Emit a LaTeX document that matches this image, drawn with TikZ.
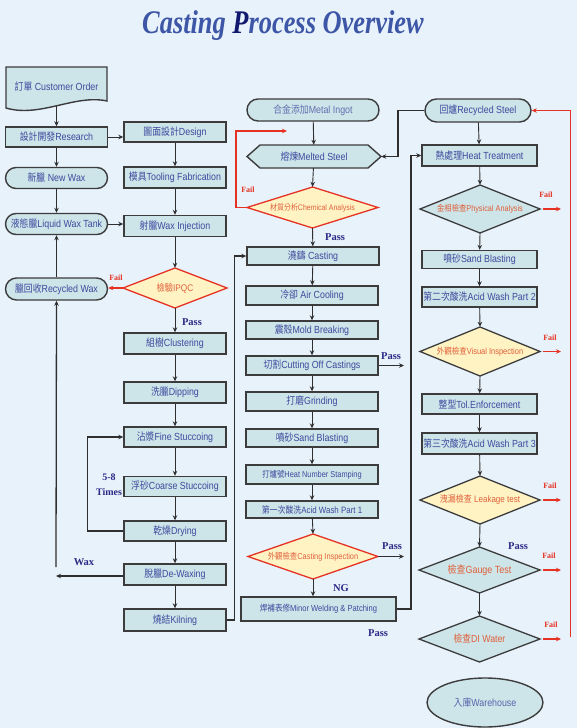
\documentclass[tikz,border=0pt]{standalone}
\usepackage{fontspec}
\setmainfont{Liberation Sans}[FakeStretch=0.86]
\newfontfamily\cjk{Noto Sans CJK TC}[FakeStretch=0.86]
\newfontfamily\lblfont{Liberation Serif}
\newfontfamily\titlefont{Liberation Serif}[FakeStretch=0.8]
\newcommand\zh[1]{{\cjk #1}}
\usetikzlibrary{arrows.meta,shapes.geometric}
\definecolor{bgc}{HTML}{E8F2FB}
\definecolor{boxf}{HTML}{CDE4E8}
\definecolor{boxd}{HTML}{3C3C3C}
\definecolor{txt}{HTML}{3B4A9E}
\definecolor{dtxt}{HTML}{E0603A}
\definecolor{yel}{HTML}{FFF3C4}
\definecolor{redc}{HTML}{E53222}
\definecolor{lc}{HTML}{2F2F2F}
\definecolor{navy}{HTML}{2B2B85}
\definecolor{tblue}{HTML}{3D56A6}
\definecolor{tdark}{HTML}{10196E}
\newcommand\fs[1]{\fontsize{#1}{#1}\selectfont}
\tikzset{
  boxs/.style={draw=boxd, line width=1.4pt, fill=boxf, text=txt, inner sep=0pt, font=\fs{10.3}},
  term/.style={boxs, rounded corners=#1},
  dtext/.style={inner sep=0pt, text=dtxt, font=\fs{8}},
  dyr/.style={fill=yel, draw=redc, line width=1.3pt},
  dyd/.style={fill=yel, draw=boxd, line width=1.3pt},
  dtd/.style={fill=boxf, draw=boxd, line width=1.3pt},
  arr/.style={draw=lc, line width=0.9pt, -{Stealth[length=5pt,width=4.5pt]}},
  larr/.style={draw=lc, line width=1.3pt, -{Stealth[length=5pt,width=4.5pt]}},
  rarr/.style={draw=redc, line width=1.1pt, -{Stealth[length=5pt,width=4.5pt]}},
  passl/.style={text=navy, font=\lblfont\bfseries\fs{10.5}, inner sep=0pt},
  faill/.style={text=redc, font=\lblfont\bfseries\fs{8}, inner sep=0pt},
}
% diamond: name, x, y, w, h, path style, text
\newcommand\dianode[7]{%
  \path[#6] ({#2-#4/2},#3) -- (#2,{#3-#5/2}) -- ({#2+#4/2},#3) -- (#2,{#3+#5/2}) -- cycle;
  \node[dtext, minimum width=#4, minimum height=#5] (#1) at (#2,#3) {#7};}
\begin{document}
\begin{tikzpicture}[x=1pt,y=-1pt]
\fill[bgc] (0,0) rectangle (577,728);
\useasboundingbox (0,0) rectangle (577,728);

% title
\node[inner sep=0pt, anchor=base, font=\titlefont\bfseries\itshape\fs{33}, text=tblue] (title) at (283,33.5)
  {Casting \textcolor{tdark}{P}rocess Overview};

% ---------- left column ----------
\path[draw=boxd, line width=1.4pt, fill=boxf] (6,67) -- (107,67) -- (107,101) .. controls (75,94) and (40,118) .. (6,108) -- cycle;
\node[inner sep=0pt, text=txt, font=\fs{10.3}, minimum width=101, minimum height=39] (co) at (56.5,86.5) {\zh{訂單} Customer Order};
\node[boxs, minimum width=102, minimum height=20] (res) at (56.5,137) {\zh{設計開發}Research};
\node[term=10.5pt, minimum width=102, minimum height=21] (nw) at (56.5,178) {\zh{新臘} New Wax};
\node[term=10.5pt, minimum width=102, minimum height=21] (lwt) at (56.5,224) {\zh{液態臘}Liquid Wax Tank};
\node[term=11pt, minimum width=102, minimum height=22] (rw) at (56.5,289) {\zh{臘回收}Recycled Wax};

% ---------- second column ----------
\node[boxs, minimum width=102, minimum height=20] (des) at (175,132) {\zh{圖面設計}Design};
\node[boxs, minimum width=102, minimum height=21] (tf) at (175,177.5) {\zh{模具}Tooling Fabrication};
\node[boxs, minimum width=102, minimum height=21] (wi) at (175,226) {\zh{射臘}Wax Injection};
\dianode{ipqc}{175}{288}{104}{40}{dyr}{\fs{9.6}\zh{檢驗}IPQC}
\node[boxs, minimum width=102, minimum height=21] (cl) at (175,343.5) {\zh{組樹}Clustering};
\node[boxs, minimum width=102, minimum height=21] (dip) at (175,392.5) {\zh{洗臘}Dipping};
\node[boxs, minimum width=102, minimum height=20] (fsb) at (175,437) {\zh{沾漿}Fine Stuccoing};
\node[boxs, minimum width=102, minimum height=20] (cs) at (175,486.5) {\zh{浮砂}Coarse Stuccoing};
\node[boxs, minimum width=102, minimum height=20] (dry) at (175,531) {\zh{乾燥}Drying};
\node[boxs, minimum width=102, minimum height=21] (dew) at (175,574.5) {\zh{脫臘}De-Waxing};
\node[boxs, minimum width=102, minimum height=22] (kil) at (175,620) {\zh{燒結}Kilning};

% ---------- third column ----------
\node[term=11pt, minimum width=132, minimum height=22, text=txt!80] (mi) at (313,110) {\zh{合金添加}Metal Ingot};
\path[draw=boxd, line width=1.4pt, fill=boxf] (247,156.5) -- (260,145) -- (368,145) -- (381,156.5) -- (368,168) -- (260,168) -- cycle;
\node[inner sep=0pt, text=txt, font=\fs{10.3}, minimum width=134, minimum height=23] (ms) at (314,156.5) {\zh{熔煉}Melted Steel};
\dianode{ca}{312.5}{207.5}{131}{41}{dyr}{\fs{8.1}\zh{材質分析}Chemical Analysis}
\node[boxs, minimum width=132, minimum height=18] (cast) at (313,256) {\zh{澆鑄} Casting};
\node[boxs, minimum width=132, minimum height=19] (ac) at (312,295.5) {\zh{冷卻} Air Cooling};
\node[boxs, minimum width=132, minimum height=18] (mb) at (312,330) {\zh{震殼}Mold Breaking};
\node[boxs, minimum width=132, minimum height=19] (cut) at (312,365.5) {\zh{切割}Cutting Off Castings};
\node[boxs, minimum width=132, minimum height=19] (gr) at (312,401.5) {\zh{打磨}Grinding};
\node[boxs, minimum width=132, minimum height=18] (sb) at (312,438) {\zh{噴砂}Sand Blasting};
\node[boxs, minimum width=132, minimum height=19, font=\fs{8.6}] (hns) at (312,474.5) {\zh{打爐號}Heat Number Stamping};
\node[boxs, minimum width=132, minimum height=17, font=\fs{9.2}] (aw1) at (312,509.5) {\zh{第一次酸洗}Acid Wash Part 1};
\dianode{ci}{313}{556.5}{130}{45}{dyr}{\fs{8.6}\zh{外觀檢查}Casting Inspection}
\node[boxs, minimum width=155, minimum height=24, font=\fs{8.8}] (mw) at (318.5,609) {\zh{焊補表修}Minor Welding \& Patching};

% ---------- right column ----------
\node[term=11.5pt, minimum width=106, minimum height=23] (rs) at (478,110.5) {\zh{回爐}Recycled Steel};
\node[boxs, minimum width=115, minimum height=21] (ht) at (479.5,155.5) {\zh{熱處理}Heat Treatment};
\dianode{pa}{480}{209}{120}{48}{dtd}{\fs{8.5}\zh{金相檢查}Physical Analysis}
\node[boxs, minimum width=115, minimum height=18] (sb2) at (479.5,259.5) {\zh{噴砂}Sand Blasting};
\node[boxs, minimum width=115, minimum height=20] (aw2) at (479.5,297) {\zh{第二次酸洗}Acid Wash Part 2};
\dianode{vi}{480}{351.5}{120}{49}{dyd}{\fs{8.7}\zh{外觀檢查}Visual Inspection}
\node[boxs, minimum width=115, minimum height=20] (tol) at (479.5,404) {\zh{整型}Tol.Enforcement};
\node[boxs, minimum width=115, minimum height=21] (aw3) at (479.5,443.5) {\zh{第三次酸洗}Acid Wash Part 3};
\dianode{lt}{480}{500}{120}{48}{dyd}{\fs{9.3}\zh{洩漏檢查} Leakage test}
\dianode{gt}{479.5}{570}{121}{46}{dtd}{\fs{10.4}\zh{檢查}Gauge Test}
\dianode{di}{479.5}{639}{121}{46}{dtd}{\fs{10.2}\zh{檢查}DI Water}
\node[ellipse, draw=boxd, line width=1.4pt, fill=boxf, text=txt!85, font=\fs{10.3}, inner sep=0pt, minimum width=116, minimum height=49] (wh) at (485,702.5) {\zh{入庫}Warehouse};

% free end points
\coordinate (wxend) at (56,576);
\coordinate (wxup) at (56,567);
\coordinate (chemend) at (287,131);
\coordinate (cutend) at (404,365.5);
\coordinate (ciend) at (404,556.5);
\coordinate (redbot) at (570,637);
\coordinate (redtop) at (570,110.5);
\coordinate (paf) at (561,209);
\coordinate (vif) at (561,351.5);
\coordinate (ltf) at (561,500);
\coordinate (gtf) at (561,570);
\coordinate (dif) at (561,639);

% ---------- connectors ----------
\draw[arr] (co.south) -- (res.north);
\draw[arr] (res) -- (nw);
\draw[arr] (nw) -- (lwt);
\draw[arr] (rw) -- (lwt);
\draw[arr] (res.east) -- (res.east -| des.west);
\draw[arr] (lwt.east) -- (lwt.east -| wi.west);
\draw[arr] (des) -- (tf);
\draw[arr] (tf) -- (wi);
\draw[arr] (wi) -- (ipqc.north);
\draw[rarr] (ipqc.west) -- (ipqc.west -| rw.east);
\draw[arr] (ipqc.south) -- (cl);
\draw[arr] (cl) -- (dip);
\draw[arr] (dip) -- (fsb);
\draw[arr] (fsb) -- (cs);
\draw[arr] (cs) -- (dry);
\draw[arr] (dry) -- (dew);
\draw[arr] (dew) -- (kil);
\draw[larr] (dry.west) -- ++(-36,0) |- (fsb.west);
\draw[larr] (dew.west |- wxend) -- (wxend);
\draw[larr] (wxup) -- (rw.south);
\draw[larr] (kil.east) -- ++(8,0) |- (cast.west);

\draw[arr] (mi) -- (ms);
\draw[arr] (ms) -- (ca.north);
\draw[rarr] (ca.west) -- (236,207.5) |- (chemend);
\draw[arr] (ca.south) -- (cast);
\draw[arr] (cast) -- (ac);
\draw[arr] (ac) -- (mb);
\draw[arr] (mb) -- (cut);
\draw[arr] (cut) -- (gr);
\draw[arr] (gr) -- (sb);
\draw[arr] (sb) -- (hns);
\draw[arr] (hns) -- (aw1);
\draw[arr] (aw1) -- (ci.north);
\draw[arr] (ci.south) -- (ci.south |- mw.north);
\draw[larr] (cut.east) -- (cutend);
\draw[larr] (ci.east) -- (ciend);
\draw[larr] (mw.east) -- (411,609) |- (ht.west);
\draw[larr] (rs.west) -- (398,110.5) |- (ms.east);

\draw[arr] (rs) -- (ht);
\draw[arr] (ht) -- (pa.north);
\draw[arr] (pa.south) -- (sb2);
\draw[arr] (sb2) -- (aw2);
\draw[arr] (aw2) -- (vi.north);
\draw[arr] (vi.south) -- (tol);
\draw[arr] (tol) -- (aw3);
\draw[arr] (aw3) -- (lt.north);
\draw[arr] (lt.south) -- (gt.north);
\draw[arr] (gt.south) -- (di.north);
\draw[rarr] (pa.east) ++(3,0) -- (paf);
\draw[rarr] (vi.east) ++(3,0) -- (vif);
\draw[rarr] (lt.east) ++(3,0) -- (ltf);
\draw[rarr] (gt.east) ++(3,0) -- (gtf);
\draw[rarr] (di.east) ++(3,0) -- (dif);
\draw[rarr, line width=0.9pt] (redbot) -- (redtop) -- (rs.east);

% ---------- labels ----------
\node[faill] (f1) at (116,278) {Fail};
\node[passl] (p1) at (192,322) {Pass};
\node[passl, font=\lblfont\bfseries\fs{10}] (t1) at (109,477) {5-8};
\node[passl, font=\lblfont\bfseries\fs{10}] (t2) at (109,492) {Times};
\node[passl] (wx) at (84,562) {Wax};
\node[faill] (f2) at (248,190) {Fail};
\node[passl] (p2) at (335,237) {Pass};
\node[passl] (p3) at (391,356) {Pass};
\node[passl] (p4) at (392,546) {Pass};
\node[passl] (ng) at (341,588) {NG};
\node[passl] (p5) at (378,633) {Pass};
\node[faill] (f3) at (546,195) {Fail};
\node[faill] (f4) at (550,338) {Fail};
\node[faill] (f5) at (550,486) {Fail};
\node[passl] (p6) at (518,546) {Pass};
\node[faill] (f6) at (549,556) {Fail};
\node[faill] (f7) at (551,625) {Fail};
\end{tikzpicture}
\end{document}
